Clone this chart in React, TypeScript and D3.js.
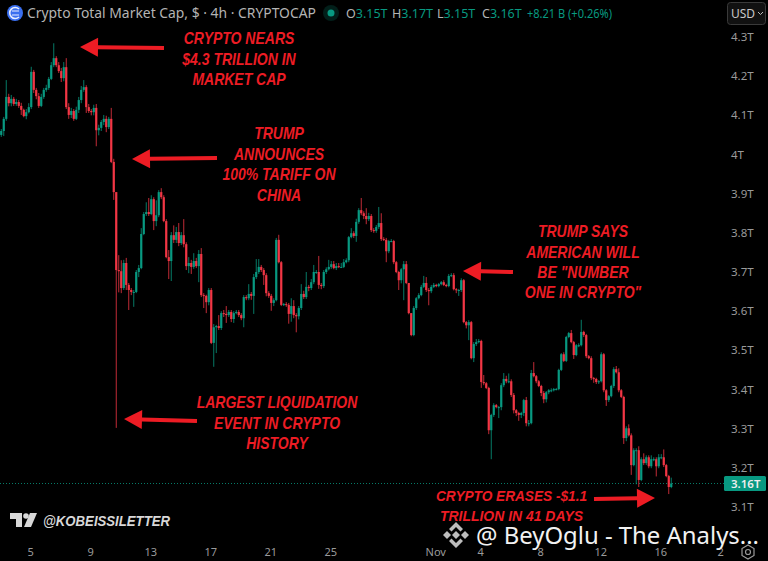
import React from "react";
import * as d3 from "d3";

// Values in billions of USD, one per 4h candle, starting 3 Oct
const closes = [
  4060,4091,4147,4131,4142,4129,4134,4124,4114,4098,
  4108,4121,4211,4165,4149,4124,4147,4165,4170,4193,
  4228,4246,4228,4213,4195,4223,4121,4101,4111,4091,
  4114,4139,4165,4172,4121,4111,4108,4119,4062,4068,
  4083,4091,4070,4091,3981,3904,3705,3702,3659,3723,
  3667,3654,3649,3649,3700,3710,3797,3848,3853,3848,
  3886,3830,3845,3904,3891,3830,3738,3728,3794,3782,
  3802,3774,3794,3771,3715,3723,3713,3728,3715,3746,
  3641,3639,3623,3654,3519,3559,3562,3557,3595,3593,
  3590,3598,3580,3595,3598,3590,3582,3636,3633,3644,
  3639,3687,3700,3713,3705,3692,3646,3639,3621,3628,
  3782,3725,3616,3618,3616,3593,3613,3590,3587,3608,
  3644,3636,3662,3659,3674,3700,3700,3667,3664,3700,
  3707,3713,3720,3710,3715,3713,3713,3725,3730,3789,
  3799,3792,3828,3858,3850,3843,3835,3843,3807,3805,
  3815,3825,3784,3782,3753,3779,3779,3725,3700,3679,
  3707,3720,3672,3595,3539,3608,3633,3641,3662,3672,
  3654,3651,3662,3667,3664,3669,3674,3667,3664,3690,
  3692,3656,3654,3654,3679,3572,3564,3572,3480,3516,
  3521,3524,3419,3416,3404,3296,3335,3360,3355,3355,
  3411,3427,3421,3421,3386,3347,3340,3335,3340,3373,
  3314,3314,3442,3434,3421,3409,3391,3375,3393,3398,
  3398,3401,3401,3450,3490,3473,3534,3544,3521,3488,
  3513,3513,3547,3539,3485,3480,3429,3427,3419,3421,
  3490,3398,3373,3383,3409,3452,3444,3398,3381,3276,
  3301,3283,3207,3245,3245,3169,3222,3212,3227,3204,
  3222,3222,3204,3227,3227,3207,3179,3151,3160,
];
const firstOpen = 4050;
const upperWicks = [
  5,5,43,8,10,5,8,5,8,3,
  8,10,13,5,5,8,8,5,8,5,
  8,38,5,8,8,13,23,10,8,5,
  8,8,10,18,5,8,5,8,10,8,
  5,10,8,5,28,8,0,38,28,8,
  13,5,5,5,5,8,15,5,25,36,
  10,5,38,5,10,5,5,18,8,25,
  13,23,8,41,5,15,8,20,8,10,
  15,5,3,5,5,8,3,28,5,8,
  20,5,5,5,5,5,5,5,5,25,
  5,8,33,20,5,5,5,5,5,5,
  5,13,3,3,5,5,20,15,5,5,
  25,8,38,5,8,18,5,41,5,5,
  5,18,8,8,8,8,10,8,5,3,
  13,5,8,5,31,5,20,8,5,5,
  5,41,25,5,5,3,5,3,3,3,
  3,8,8,0,0,5,3,5,5,18,
  15,5,5,5,3,3,3,5,3,5,
  5,5,3,3,5,3,3,5,3,5,
  8,5,3,18,3,3,3,5,3,3,
  5,15,8,20,5,5,3,3,3,3,
  8,8,8,28,3,3,3,5,3,3,
  5,3,3,3,3,5,3,3,8,3,
  3,5,31,3,3,3,5,3,3,3,
  5,3,3,3,3,5,8,10,3,3,
  5,10,5,5,5,10,5,15,5,5,
  10,5,5,8,8,20,3,3,15,
];
const lowerWicks = [
  5,13,5,8,8,5,5,5,13,3,
  8,3,5,8,8,5,3,5,5,5,
  3,5,5,5,10,8,5,10,8,5,
  3,8,8,5,15,5,8,8,41,13,
  8,8,13,5,3,20,403,54,13,5,
  13,51,8,38,3,13,3,3,5,5,
  3,23,13,5,5,3,3,46,51,8,
  8,8,5,8,10,18,18,5,5,41,
  5,31,28,8,3,61,66,5,5,8,
  20,5,8,10,3,5,5,23,5,5,
  10,46,5,5,5,25,8,5,20,8,
  3,3,3,3,5,25,20,8,41,8,
  5,5,5,8,5,5,5,10,8,5,
  5,3,5,3,5,3,3,3,3,5,
  3,5,15,5,5,8,13,5,5,5,
  5,5,5,3,28,5,3,5,3,25,
  8,79,3,3,3,3,5,3,3,3,
  5,36,5,3,3,3,3,3,3,3,
  3,3,8,15,5,3,8,38,3,10,
  5,3,15,5,3,10,74,5,3,28,
  8,5,5,5,5,8,8,15,8,8,
  8,8,3,3,5,3,8,10,8,5,
  5,3,3,3,3,3,3,3,3,10,
  3,5,3,5,5,3,5,10,5,5,
  3,5,15,5,3,5,3,5,3,15,
  8,3,25,3,87,18,3,5,5,5,
  5,5,26,5,5,5,3,18,3,
];
const priceTicks = [4300,4200,4100,4000,3900,3800,3700,3600,3500,3400,3300,3200,3100];
const priceLabels = ["4.3T","4.2T","4.1T","4T","3.9T","3.8T","3.7T","3.6T","3.5T","3.4T","3.3T","3.2T","3.1T"];
const dateIdx = [12,36,60,84,108,132,174,192,216,240,264,288];
const dateLabels = ["5","9","13","17","21","25","Nov","4","8","12","16","2"];
const lastPrice = 3160;
const notes: [number, number, string][] = [
  [239,44,"CRYPTO NEARS"],[239,65,"$4.3 TRILLION IN"],[239,85,"MARKET CAP"],
  [279,139,"TRUMP"],[279,160,"ANNOUNCES"],[279,180,"100% TARIFF ON"],[279,201,"CHINA"],
  [583,237,"TRUMP SAYS"],[583,258,"AMERICAN WILL"],[583,278,'BE "NUMBER'],[583,298,'ONE IN CRYPTO"'],
  [277,408,"LARGEST LIQUIDATION"],[277,429,"EVENT IN CRYPTO"],[277,449,"HISTORY"],
];
const arrows: [number, number, number, number][] = [
  [164,48,80,47],[217,158,132,159],[513,272,463,271],[197,421,124,419],[594,499,655,498],
];

const RED = "#f23645";
const GREEN = "#089981";
const ANN = "#ed1c24";
const UI = "'Noto Sans', sans-serif";
const AF = "'Liberation Sans', sans-serif";

const y = d3.scaleLinear().domain([3100, 4300]).range([507, 37]);
const x = d3.scaleLinear().domain([0, 268]).range([1.25, 671.25]);

function Arrow({ a }: { a: [number, number, number, number] }) {
  const [x0, y0, x1, y1] = a;
  const ang = Math.atan2(y1 - y0, x1 - x0);
  const hl = 18, hw = 9.5, tw = 2;
  const cos = Math.cos(ang), sin = Math.sin(ang);
  const bx = x1 - hl * cos, by = y1 - hl * sin;
  const pts = [
    [x0 - tw * -sin, y0 - tw * cos],
    [bx - tw * -sin, by - tw * cos],
    [bx - hw * -sin, by - hw * cos],
    [x1, y1],
    [bx + hw * -sin, by + hw * cos],
    [bx + tw * -sin, by + tw * cos],
    [x0 + tw * -sin, y0 + tw * cos],
  ];
  return <polygon points={pts.map((p) => p.join(",")).join(" ")} fill={ANN} />;
}

export default function App() {
  const opens = closes.map((_, i) => (i === 0 ? firstOpen : closes[i - 1]));
  return (
    <svg width={768} height={561} style={{ position: "fixed", left: 0, top: 0, background: "#000" }}>
      <rect width={768} height={561} fill="#000" />
      <line x1={0} x2={724} y1={y(lastPrice)} y2={y(lastPrice)} stroke={GREEN} strokeWidth={1} strokeDasharray="1 2" opacity={0.8} />
      {closes.map((c, i) => {
        const o = opens[i];
        const col = c >= o ? GREEN : RED;
        const top = Math.max(o, c), bot = Math.min(o, c);
        const cx = x(i);
        return (
          <g key={i}>
            <line x1={cx} x2={cx} y1={y(top + upperWicks[i])} y2={y(bot - lowerWicks[i])} stroke={col} strokeWidth={1} opacity={0.8} />
            <rect x={cx - 1.1} width={2.2} y={y(top)} height={Math.max(1, y(bot) - y(top))} fill={col} />
          </g>
        );
      })}

      {/* header */}
      <circle cx={15} cy={13} r={8} fill="#3a6ff0" />
      <path d="M19 9 A5.5 5.5 0 1 0 19 17" fill="none" stroke="#e8eeff" strokeWidth={1.6} />
      <path d="M12 11 H19 M12 15 H19" stroke="#e8eeff" strokeWidth={1.2} />
      <text x={27} y={18} fontFamily={UI} fontSize={14} textLength={289} lengthAdjust="spacingAndGlyphs" fill="#b4b4b4">Crypto Total Market Cap, $ · 4h · CRYPTOCAP</text>
      <circle cx={331} cy={13} r={8} fill={GREEN} opacity={0.2} />
      <circle cx={331} cy={13} r={3.5} fill={GREEN} />
      <text y={18} fontFamily={UI} fontSize={12.5} fill={GREEN}>
        <tspan x={346} fill="#b4b4b4">O</tspan><tspan>3.15T</tspan>
        <tspan x={392} fill="#b4b4b4">H</tspan><tspan>3.17T</tspan>
        <tspan x={437} fill="#b4b4b4">L</tspan><tspan>3.15T</tspan>
        <tspan x={482} fill="#b4b4b4">C</tspan><tspan>3.16T</tspan>
      </text>
      <text x={527} y={18} fontFamily={UI} fontSize={12.5} fill={GREEN} textLength={85} lengthAdjust="spacingAndGlyphs">+8.21 B (+0.26%)</text>

      {/* USD box */}
      <rect x={727.5} y={2.5} width={38} height={22} rx={3} fill="#111" stroke="#3a3a3a" />
      <text x={731} y={18} fontFamily={UI} fontSize={12} fill="#c8c8c8">USD</text>
      <path d="M758 12 L760.5 14.5 L763 12" fill="none" stroke="#bbb" strokeWidth={1} />

      {/* price axis */}
      {priceTicks.map((t, i) => (
        <text key={t} x={731} y={y(t) + 4} fontFamily={UI} fontSize={11.5} fill="#9a9a9a">{priceLabels[i]}</text>
      ))}
      <rect x={724} y={y(lastPrice) - 7.5} width={42} height={15} rx={1.5} fill={GREEN} />
      <text x={731} y={y(lastPrice) + 4} fontFamily={UI} fontSize={11.5} fontWeight={600} fill="#eee">3.16T</text>

      {/* time axis */}
      {dateIdx.map((d, i) => (
        <text key={d} x={x(d) - 0.5} y={556} textAnchor="middle" fontFamily={UI} fontSize={11} fill="#9a9a9a">{dateLabels[i]}</text>
      ))}
      <polygon points="748,545 754,548.5 754,555.5 748,559 742,555.5 742,548.5" fill="none" stroke="#999" strokeWidth={1.2} />
      <circle cx={748} cy={552} r={2.5} fill="none" stroke="#999" strokeWidth={1.2} />

      {/* annotations */}
      {arrows.map((a, i) => <Arrow key={i} a={a} />)}
      {notes.map(([nx, ny, t]) => (
        <text key={t} transform={`translate(${nx},${ny}) scale(0.875,1)`} textAnchor="middle" fontFamily={AF} fontWeight={700} fontStyle="italic" fontSize={16} fill={ANN}>{t}</text>
      ))}
      <text x={436} y={501} fontFamily={AF} fontWeight={700} fontStyle="italic" fontSize={15} textLength={151} lengthAdjust="spacingAndGlyphs" fill={ANN}>CRYPTO ERASES -$1.1</text>
      <text x={440} y={521} fontFamily={AF} fontWeight={700} fontStyle="italic" fontSize={15} textLength={143} lengthAdjust="spacingAndGlyphs" fill={ANN}>TRILLION IN 41 DAYS</text>

      {/* watermarks */}
      <path d="M10 513 H22 V527 H16 V519 H10 Z" fill="#d8d8d8" />
      <circle cx={26} cy={516} r={2.8} fill="#d8d8d8" />
      <path d="M30 513 H37 L31 527 H24 Z" fill="#d8d8d8" />
      <text x={43} y={526} fontFamily={AF} fontWeight={700} fontStyle="italic" fontSize={15.5} textLength={127} lengthAdjust="spacingAndGlyphs" fill="#d8d8d8">@KOBEISSILETTER</text>
      <g fill="#bdbdbd">
        <polygon points="456,531 460,535 456,539 452,535" />
        <polygon points="447,531 451,535 447,539 443,535" />
        <polygon points="465,531 469,535 465,539 461,535" />
        <polygon points="456,522 463,529 460.5,531.5 456,527 451.5,531.5 449,529" />
        <polygon points="456,548 463,541 460.5,538.5 456,543 451.5,538.5 449,541" />
      </g>
      <text x={476} y={544} fontFamily={UI} fontSize={23.5} textLength={283} lengthAdjust="spacingAndGlyphs" fill="#f2f2f2">@ BeyOglu - The Analys...</text>
    </svg>
  );
}
